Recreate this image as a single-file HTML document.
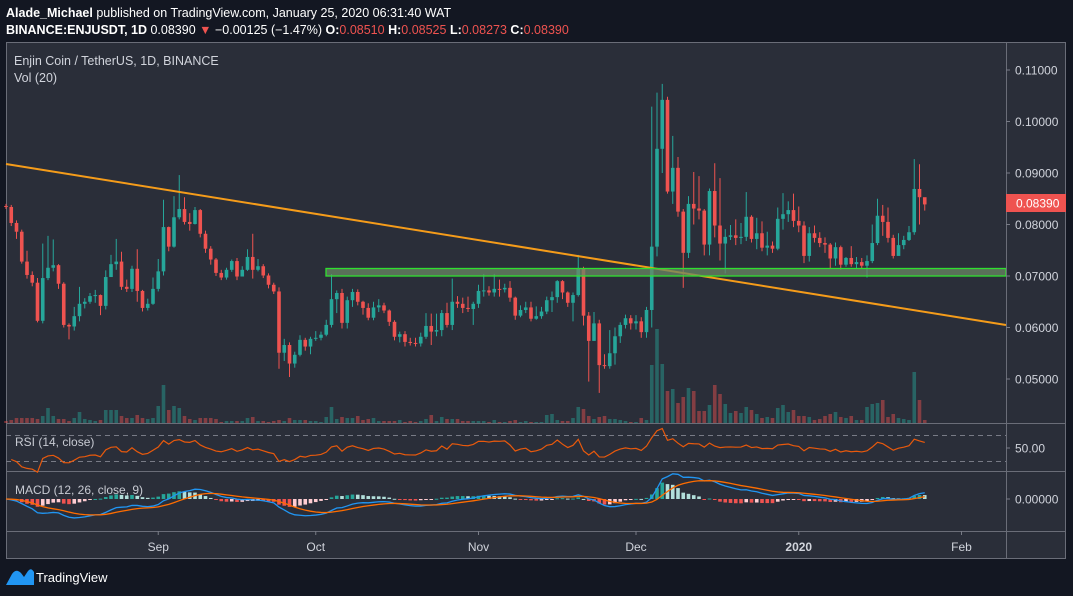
<!DOCTYPE html>
<html><head><meta charset="utf-8"><style>
body{margin:0;background:#131722;width:1073px;height:596px;overflow:hidden;font-family:"Liberation Sans",sans-serif;}
svg{position:absolute;left:0;top:0}
</style></head><body>
<svg id="c" width="1073" height="596">
<rect x="0" y="0" width="1073" height="596" fill="#131722"/>
<text x="6" y="17" font-size="12.5" fill="#fff"><tspan font-weight="bold">Alade_Michael</tspan> published on TradingView.com, January 25, 2020 06:31:40 WAT</text>
<text x="6" y="34" font-size="12.5" fill="#fff"><tspan font-weight="bold">BINANCE:ENJUSDT, 1D</tspan> 0.08390 <tspan fill="#ef5350">▼</tspan> −0.00125 (−1.47%) <tspan font-weight="bold">O:</tspan><tspan fill="#ef5350">0.08510</tspan> <tspan font-weight="bold">H:</tspan><tspan fill="#ef5350">0.08525</tspan> <tspan font-weight="bold">L:</tspan><tspan fill="#ef5350">0.08273</tspan> <tspan font-weight="bold">C:</tspan><tspan fill="#ef5350">0.08390</tspan></text>
<rect x="6.5" y="42.5" width="1059" height="516" fill="#2a2e39" stroke="#6a6d78"/>
<g id="vol"></g><g id="candles"></g>
<line x1="6" y1="164" x2="1006" y2="325" stroke="#f59c1a" stroke-width="2"/>
<rect x="326" y="268.5" width="680" height="7.5" fill="rgba(105,135,100,0.75)" stroke="#2fe02f" stroke-width="1.3"/>
<text x="14" y="65" font-size="12.5" fill="#d1d4dc">Enjin Coin / TetherUS, 1D, BINANCE</text>
<text x="14" y="82" font-size="12.5" fill="#d1d4dc">Vol (20)</text>
<line x1="6" y1="423.5" x2="1066" y2="423.5" stroke="#6a6d78"/>
<line x1="6" y1="471.5" x2="1066" y2="471.5" stroke="#6a6d78"/>
<line x1="6" y1="531.5" x2="1066" y2="531.5" stroke="#6a6d78"/>
<line x1="1006.5" y1="42" x2="1006.5" y2="559" stroke="#6a6d78"/>
<line x1="6" y1="435.5" x2="1006" y2="435.5" stroke="#787b86" stroke-dasharray="5,4"/>
<line x1="6" y1="461.5" x2="1006" y2="461.5" stroke="#787b86" stroke-dasharray="5,4"/>
<g id="rsi"></g><g id="macd"></g>
<text x="15" y="446" font-size="12" fill="#c8cbd3">RSI (14, close)</text>
<text x="15" y="494" font-size="12" fill="#c8cbd3">MACD (12, 26, close, 9)</text>
<g id="axes" font-size="12" fill="#d1d4dc"></g>
<rect x="1006" y="194" width="60" height="18" fill="#ef5350"/>
<text x="1016" y="207.5" font-size="12" fill="#fff">0.08390</text>
<g>
<path d="M6 585 L12 574 Q16 568 21 573 L24 577 L28 571 Q31 567 34 572 L34 585 Z" fill="#2196f3"/>
<text x="36" y="582" font-size="13" fill="#fff">TradingView</text>
</g>
</svg>
<script>
const closes=[.0834,.0803,.0786,.0728,.0702,.0687,.0613,.0696,.0716,.0721,.0685,.0605,.0602,.0622,.0646,.0650,.0661,.0663,.0642,.0698,.0723,.0728,.0679,.0675,.0714,.0671,.0638,.0646,.0675,.0709,.0795,.0757,.0814,.0830,.0805,.0801,.0828,.0782,.0753,.0732,.0706,.0697,.0712,.0729,.0699,.0712,.0737,.0712,.0719,.0701,.0683,.0670,.0551,.0566,.0530,.0547,.0576,.0563,.0578,.0580,.0586,.0605,.0655,.0667,.0609,.0653,.0669,.0650,.0638,.0619,.0639,.0643,.0633,.0611,.0582,.0587,.0572,.0570,.0569,.0582,.0603,.0592,.0595,.0628,.0605,.0650,.0646,.0638,.0636,.0646,.0671,.0672,.0668,.0675,.0674,.0677,.0658,.0623,.0634,.0639,.0617,.0622,.0631,.0653,.0659,.0690,.0668,.0648,.0663,.0714,.0623,.0574,.0608,.0527,.0525,.0550,.0583,.0605,.0618,.0608,.0612,.0591,.0634,.0757,.0947,.1042,.0864,.0910,.0825,.0745,.0840,.0831,.0827,.0761,.0865,.0798,.0763,.0776,.0779,.0774,.0776,.0815,.0772,.0783,.0755,.0759,.0753,.0811,.0820,.0828,.0807,.0798,.0739,.0783,.0774,.0764,.0761,.0734,.0756,.0722,.0735,.0723,.0727,.0720,.0729,.0764,.0817,.0805,.0774,.0739,.0760,.0770,.0785,.0869,.0853,.0839];
const opens=[.0836].concat(closes.slice(0,-1));
const highs=[.0840,.0838,.0808,.0790,.0749,.0709,.0696,.0763,.0778,.0771,.0723,.0688,.0608,.0640,.0679,.0657,.0667,.0673,.0664,.0711,.0741,.0772,.0747,.0693,.0720,.0752,.0673,.0656,.0697,.0733,.0848,.0796,.0855,.0896,.0853,.0822,.0834,.0830,.0788,.0758,.0735,.0712,.0716,.0732,.0735,.0719,.0752,.0782,.0733,.0723,.0705,.0687,.0678,.0578,.0571,.0553,.0585,.0580,.0582,.0593,.0592,.0615,.0704,.0672,.0675,.0660,.0675,.0674,.0652,.0647,.0650,.0655,.0648,.0635,.0614,.0592,.0593,.0580,.0580,.0590,.0628,.0627,.0627,.0634,.0648,.0695,.0661,.0658,.0660,.0650,.0683,.0704,.0680,.0704,.0693,.0685,.0690,.0660,.0643,.0650,.0650,.0641,.0640,.0660,.0670,.0692,.0692,.0670,.0668,.0741,.0718,.0630,.0630,.0615,.0548,.0595,.0600,.0610,.0625,.0624,.0624,.0620,.0640,.1029,.1056,.1073,.1048,.0972,.0931,.0830,.0855,.0902,.0894,.0830,.0870,.0919,.0890,.0791,.0799,.0810,.0803,.0863,.0818,.0813,.0806,.0786,.0767,.0833,.0861,.0845,.0860,.0835,.0806,.0795,.0798,.0785,.0775,.0764,.0765,.0759,.0737,.0758,.0737,.0735,.0740,.0800,.0850,.0838,.0833,.0780,.0783,.0778,.0797,.0927,.0917,.0852];
const lows=[.0830,.0797,.0772,.0724,.0695,.0680,.0610,.0608,.0692,.0709,.0675,.0600,.0577,.0594,.0612,.0637,.0646,.0648,.0624,.0635,.0717,.0712,.0673,.0669,.0669,.0650,.0631,.0633,.0644,.0670,.0701,.0748,.0755,.0810,.0800,.0788,.0800,.0775,.0745,.0722,.0700,.0692,.0693,.0708,.0692,.0702,.0710,.0695,.0709,.0696,.0676,.0665,.0520,.0535,.0504,.0522,.0544,.0555,.0548,.0574,.0575,.0583,.0600,.0628,.0598,.0598,.0640,.0643,.0625,.0614,.0614,.0630,.0628,.0603,.0575,.0571,.0563,.0565,.0563,.0563,.0578,.0566,.0583,.0583,.0600,.0595,.0638,.0628,.0630,.0605,.0638,.0660,.0662,.0660,.0660,.0668,.0650,.0615,.0620,.0628,.0612,.0615,.0617,.0626,.0630,.0648,.0655,.0640,.0612,.0660,.0604,.0495,.0574,.0473,.0520,.0520,.0528,.0570,.0598,.0596,.0596,.0580,.0580,.0600,.0738,.0900,.0860,.0840,.0815,.0677,.0735,.0800,.0810,.0740,.0740,.0775,.0730,.0705,.0770,.0760,.0762,.0768,.0765,.0752,.0748,.0740,.0745,.0750,.0790,.0805,.0795,.0785,.0725,.0728,.0765,.0756,.0745,.0715,.0720,.0712,.0718,.0718,.0715,.0715,.0697,.0725,.0760,.0778,.0765,.0734,.0740,.0752,.0768,.0780,.0800,.0827];
const volumes=[2,3,5,5,5,5,4,7,15,7,4,4,2,5,11,4,3,2,3,13,13,13,7,5,5,8,5,4,5,17,38,13,17,15,7,4,3,5,5,5,4,1,2,2,2,2,5,6,2,2,1,2,3,2,5,3,3,3,2,2,1,6,16,4,6,5,5,7,3,4,5,2,2,2,2,3,1,2,1,2,4,8,2,6,4,4,4,2,2,2,2,2,1,3,1,1,2,3,1,2,1,1,1,8,9,3,2,2,5,16,14,7,4,6,7,4,4,3,2,1,1,5,3,58,94,59,32,34,20,26,35,32,12,12,18,38,29,19,10,12,10,16,13,9,5,6,5,15,18,11,13,7,7,6,3,4,7,9,11,6,5,7,3,3,16,19,20,23,6,9,5,4,3,51,23,3];
const priceTicks=[0.05,0.06,0.07,0.08,0.09,0.10,0.11];
const monthLabels=["Sep","Oct","Nov","Dec","2020","Feb"];
const monthIdx=[29,59,90,120,151,182];

const NS="http://www.w3.org/2000/svg";
const xOf=i=>6+5.25*i;
const yOf=p=>276-(p-0.07)*5150;
const volY=v=>423-v;
function mk(tag,attrs,parent){const e=document.createElementNS(NS,tag);for(const k in attrs)e.setAttribute(k,attrs[k]);parent.appendChild(e);return e;}
const gc=document.getElementById('candles'),gv=document.getElementById('vol');
for(let i=0;i<closes.length;i++){
  const up=closes[i]>=opens[i],col=up?'#26a69a':'#ef5350',x=xOf(i);
  const v=mk('rect',{x:x-1.8,y:volY(volumes[i]),width:3.6,height:423-volY(volumes[i]),fill:col,opacity:0.45},gv);
  
  
  const w=mk('line',{x1:x,x2:x,y1:yOf(highs[i]),y2:yOf(lows[i]),stroke:col,'stroke-width':1},gc);
  
  
  const t=yOf(Math.max(opens[i],closes[i])),b=yOf(Math.min(opens[i],closes[i]));
  const r=mk('rect',{x:x-1.8,y:t,width:3.6,height:Math.max(1,b-t),fill:col},gc);
  
  
}
// RSI (running Wilder smoothing from start)
const rsi=[];let ag=0.0004,al=0.0006;
for(let i=1;i<closes.length;i++){const d=closes[i]-closes[i-1];const g=Math.max(d,0),l=Math.max(-d,0);
  ag=(ag*13+g)/14;al=(al*13+l)/14;
  rsi.push([i,al===0?100:100-100/(1+ag/al)]);}
const rp=mk('polyline',{points:rsi.map(([i,v])=>xOf(i)+','+(448-(v-50)*0.65)).join(' '),fill:'none',stroke:'#e8590c','stroke-width':1.2},document.getElementById('rsi'));


// MACD
const ema=(arr,n)=>{const k=2/(n+1);const o=[];arr.forEach((v,i)=>o.push(i?v*k+o[i-1]*(1-k):v));return o;};
const e12=ema(closes,12),e26=ema(closes,26);const macd=e12.map((v,i)=>v-e26[i]);const sig=ema(macd,9);
const my=v=>499-v*3600;const gm=document.getElementById('macd');
for(let i=1;i<closes.length;i++){const h=macd[i]-sig[i],ph=macd[i-1]-sig[i-1];
  const col=h>=0?(h>=ph?'#26a69a':'#b2dfdb'):(h<=ph?'#ef5350':'#ffcdd2');
  const y0=my(0),y1=my(h);
  const b=mk('rect',{x:xOf(i)-1.8,y:Math.min(y0,y1),width:3.6,height:Math.max(1,Math.abs(y1-y0)),fill:col},gm);
  
  }
const ml=mk('polyline',{points:macd.map((v,i)=>xOf(i)+','+my(v)).join(' '),fill:'none',stroke:'#2196f3','stroke-width':1.3},gm);


const sl=mk('polyline',{points:sig.map((v,i)=>xOf(i)+','+my(v)).join(' '),fill:'none',stroke:'#ff6d00','stroke-width':1.3},gm);


// axes
const ga=document.getElementById('axes');
priceTicks.forEach(p=>{const y=yOf(p);
  mk('line',{x1:1006,x2:1010,y1:y,y2:y,stroke:'#787b86'},ga);
  const t=mk('text',{x:1015,y:y+4.5},ga);t.textContent=p.toFixed(5);
  
  });
[[448,'50.00'],[499,'0.00000']].forEach(([y,s])=>{mk('line',{x1:1006,x2:1010,y1:y,y2:y,stroke:'#787b86'},ga);
  const t=mk('text',{x:1015,y:y+4.5},ga);t.textContent=s;
  
  });
monthLabels.forEach((m,k)=>{const x=xOf(monthIdx[k]);
  mk('line',{x1:x,x2:x,y1:531,y2:535,stroke:'#787b86'},ga);
  const t=mk('text',{x:x,y:551,'text-anchor':'middle','font-weight':m==='2020'?'bold':'normal'},ga);t.textContent=m;
  
  });
</script>
</body></html>
